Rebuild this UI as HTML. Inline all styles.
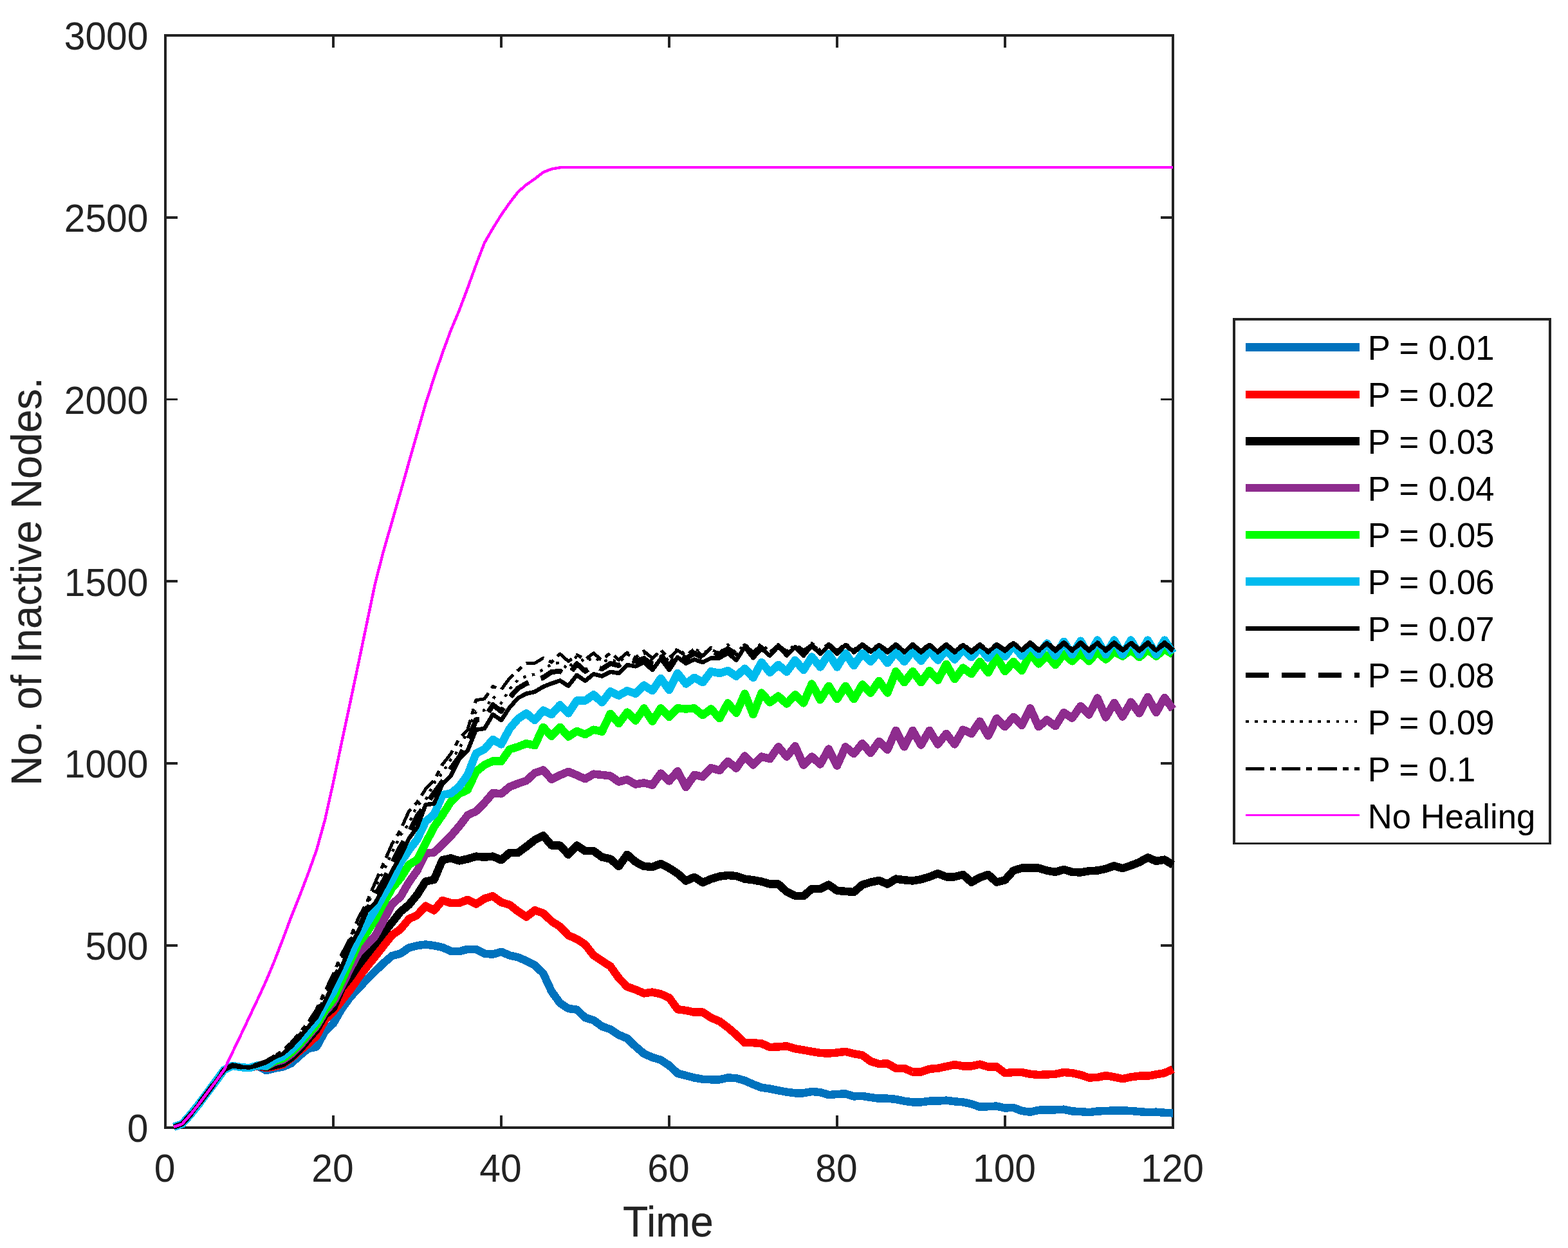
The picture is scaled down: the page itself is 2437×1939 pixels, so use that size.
<!DOCTYPE html>
<html lang="en"><head><meta charset="utf-8"><title>No. of Inactive Nodes vs Time</title>
<style>html,body{margin:0;padding:0;background:#fff;}body{width:2437px;height:1939px;overflow:hidden;}svg{display:block;}text{font-family:'Liberation Sans', sans-serif;}</style>
</head><body>
<svg width="2437" height="1939" viewBox="0 0 2437 1939" role="img" aria-label="Number of inactive nodes versus time for different healing probabilities">
<rect x="0" y="0" width="2437" height="1939" fill="#ffffff"/>
<g fill="#222222" shape-rendering="crispEdges">
<rect x="255" y="53" width="4" height="1701"/>
<rect x="1821" y="53" width="4" height="1701"/>
<rect x="255" y="53" width="1570" height="4"/>
<rect x="255" y="1750" width="1570" height="4"/>
<rect x="516" y="1733" width="4" height="17"/>
<rect x="516" y="57" width="4" height="17"/>
<rect x="777" y="1733" width="4" height="17"/>
<rect x="777" y="57" width="4" height="17"/>
<rect x="1038" y="1733" width="4" height="17"/>
<rect x="1038" y="57" width="4" height="17"/>
<rect x="1299" y="1733" width="4" height="17"/>
<rect x="1299" y="57" width="4" height="17"/>
<rect x="1560" y="1733" width="4" height="17"/>
<rect x="1560" y="57" width="4" height="17"/>
<rect x="259" y="1467" width="17" height="4"/>
<rect x="1804" y="1467" width="17" height="4"/>
<rect x="259" y="1184" width="17" height="4"/>
<rect x="1804" y="1184" width="17" height="4"/>
<rect x="259" y="901" width="17" height="4"/>
<rect x="1804" y="901" width="17" height="4"/>
<rect x="259" y="619" width="17" height="3"/>
<rect x="1804" y="619" width="17" height="3"/>
<rect x="259" y="336" width="17" height="4"/>
<rect x="1804" y="336" width="17" height="4"/>
</g>
<g fill="#222222" font-size="58.8">
<text transform="translate(256.0,1835.7) scale(1,1.025)" text-anchor="middle">0</text>
<text transform="translate(517.0,1835.7) scale(1,1.025)" text-anchor="middle">20</text>
<text transform="translate(778.0,1835.7) scale(1,1.025)" text-anchor="middle">40</text>
<text transform="translate(1039.0,1835.7) scale(1,1.025)" text-anchor="middle">60</text>
<text transform="translate(1300.0,1835.7) scale(1,1.025)" text-anchor="middle">80</text>
<text transform="translate(1561.0,1835.7) scale(1,1.025)" text-anchor="middle">100</text>
<text transform="translate(1822.0,1835.7) scale(1,1.025)" text-anchor="middle">120</text>
<text transform="translate(230.5,1774.0) scale(1,1.025)" text-anchor="end">0</text>
<text transform="translate(230.5,1491.2) scale(1,1.025)" text-anchor="end">500</text>
<text transform="translate(230.5,1208.3) scale(1,1.025)" text-anchor="end">1000</text>
<text transform="translate(230.5,925.5) scale(1,1.025)" text-anchor="end">1500</text>
<text transform="translate(230.5,642.7) scale(1,1.025)" text-anchor="end">2000</text>
<text transform="translate(230.5,359.8) scale(1,1.025)" text-anchor="end">2500</text>
<text transform="translate(230.5,77.0) scale(1,1.025)" text-anchor="end">3000</text>
</g>
<g fill="#222222" stroke="#222222" stroke-width="0.25" font-size="64.5">
<text transform="translate(1038.5,1921.0) scale(1,1.02)" text-anchor="middle">Time</text>
<text transform="translate(64.2,903.5) rotate(-90) scale(1,1.02)" text-anchor="middle">No. of Inactive Nodes.</text>
</g>
<g fill="none" stroke-linejoin="round" stroke-linecap="butt" shape-rendering="crispEdges">
<polyline stroke="#0072BD" stroke-width="12.5" points="270.1,1750.9 283.1,1746.3 296.1,1731.6 309.2,1715.2 322.2,1697.7 335.3,1680.2 348.4,1662.1 361.4,1655.8 374.4,1658.1 387.5,1659.2 400.6,1655.8 413.6,1663.2 426.6,1659.8 439.7,1657.5 452.8,1651.9 465.8,1640.0 478.9,1629.3 491.9,1626.4 505.0,1602.7 518.0,1590.2 531.0,1567.6 544.1,1549.5 557.2,1535.3 570.2,1521.8 583.2,1508.8 596.3,1496.3 609.4,1485.0 622.4,1481.6 635.5,1472.6 648.5,1469.2 661.5,1467.5 674.6,1469.2 687.7,1472.0 700.7,1477.7 713.8,1478.2 726.8,1474.8 739.9,1474.8 752.9,1481.6 766.0,1482.7 779.0,1478.8 792.1,1484.4 805.1,1487.3 818.1,1492.9 831.2,1499.7 844.2,1512.2 857.3,1540.4 870.4,1558.5 883.4,1567.0 896.5,1568.7 909.5,1581.2 922.6,1585.1 935.6,1594.7 948.7,1599.3 961.7,1607.8 974.8,1613.4 987.8,1625.9 1000.9,1637.2 1013.9,1642.8 1027.0,1646.8 1040.0,1655.3 1053.1,1667.7 1066.1,1671.1 1079.2,1674.5 1092.2,1676.8 1105.2,1677.3 1118.3,1677.3 1131.3,1674.5 1144.4,1675.1 1157.5,1679.0 1170.5,1684.7 1183.6,1689.8 1196.6,1691.5 1209.7,1694.3 1222.7,1696.6 1235.8,1698.3 1248.8,1698.3 1261.8,1696.0 1274.9,1697.1 1288.0,1701.1 1301.0,1700.0 1314.0,1699.4 1327.1,1703.4 1340.2,1702.8 1353.2,1705.0 1366.2,1706.7 1379.3,1706.7 1392.4,1707.9 1405.4,1710.7 1418.5,1712.4 1431.5,1712.4 1444.5,1710.7 1457.6,1710.7 1470.7,1709.6 1483.7,1711.3 1496.8,1712.4 1509.8,1715.2 1522.9,1719.8 1535.9,1719.2 1549.0,1718.6 1562.0,1721.5 1575.1,1720.9 1588.1,1726.0 1601.2,1727.7 1614.2,1724.8 1627.2,1724.3 1640.3,1724.3 1653.4,1723.7 1666.4,1726.5 1679.5,1727.1 1692.5,1728.2 1705.6,1726.5 1718.6,1726.0 1731.7,1725.4 1744.7,1725.4 1757.8,1726.0 1770.8,1727.1 1783.9,1728.2 1796.9,1727.7 1810.0,1728.8 1823.0,1729.4"/>
<polyline stroke="#FF0000" stroke-width="12.5" points="270.1,1750.9 283.1,1746.3 296.1,1731.6 309.2,1715.2 322.2,1697.7 335.3,1680.2 348.4,1662.1 361.4,1655.8 374.4,1658.1 387.5,1659.2 400.6,1655.8 413.6,1659.2 426.6,1657.0 439.7,1653.6 452.8,1644.0 465.8,1632.6 478.9,1621.9 491.9,1609.5 505.0,1585.1 518.0,1571.6 531.0,1554.6 544.1,1538.2 557.2,1518.9 570.2,1502.0 583.2,1486.1 596.3,1469.2 609.4,1452.8 622.4,1443.7 635.5,1427.9 648.5,1421.7 661.5,1407.5 674.6,1414.3 687.7,1399.0 700.7,1403.0 713.8,1403.0 726.8,1397.9 739.9,1404.7 752.9,1396.2 766.0,1392.2 779.0,1401.9 792.1,1405.8 805.1,1416.0 818.1,1424.5 831.2,1414.3 844.2,1418.8 857.3,1431.3 870.4,1439.8 883.4,1453.3 896.5,1459.0 909.5,1467.5 922.6,1484.4 935.6,1492.9 948.7,1501.4 961.7,1519.5 974.8,1533.1 987.8,1537.6 1000.9,1543.3 1013.9,1541.6 1027.0,1544.4 1040.0,1550.1 1053.1,1568.2 1066.1,1569.9 1079.2,1572.7 1092.2,1572.7 1105.2,1581.2 1118.3,1586.8 1131.3,1596.4 1144.4,1607.8 1157.5,1620.2 1170.5,1620.2 1183.6,1621.3 1196.6,1627.0 1209.7,1626.4 1222.7,1625.3 1235.8,1629.3 1248.8,1631.5 1261.8,1633.8 1274.9,1636.0 1288.0,1636.6 1301.0,1635.5 1314.0,1633.8 1327.1,1637.2 1340.2,1639.4 1353.2,1649.0 1366.2,1653.0 1379.3,1652.4 1392.4,1659.8 1405.4,1659.8 1418.5,1665.5 1431.5,1665.5 1444.5,1660.9 1457.6,1659.8 1470.7,1657.0 1483.7,1654.1 1496.8,1656.4 1509.8,1656.4 1522.9,1653.6 1535.9,1657.5 1549.0,1657.5 1562.0,1667.2 1575.1,1666.0 1588.1,1666.0 1601.2,1668.8 1614.2,1670.0 1627.2,1669.4 1640.3,1668.8 1653.4,1666.0 1666.4,1667.2 1679.5,1670.0 1692.5,1674.5 1705.6,1673.9 1718.6,1671.1 1731.7,1673.4 1744.7,1676.2 1757.8,1673.4 1770.8,1671.7 1783.9,1671.7 1796.9,1669.4 1810.0,1667.2 1823.0,1660.9"/>
<polyline stroke="#000000" stroke-width="12.5" points="270.1,1750.9 283.1,1746.3 296.1,1731.6 309.2,1715.2 322.2,1697.7 335.3,1680.2 348.4,1662.1 361.4,1655.8 374.4,1658.1 387.5,1659.2 400.6,1655.3 413.6,1658.1 426.6,1655.3 439.7,1651.9 452.8,1642.8 465.8,1630.4 478.9,1614.5 491.9,1599.3 505.0,1576.6 518.0,1565.9 531.0,1535.3 544.1,1518.9 557.2,1499.7 570.2,1482.7 583.2,1466.3 596.3,1449.4 609.4,1433.0 622.4,1416.6 635.5,1405.8 648.5,1390.0 661.5,1369.6 674.6,1366.8 687.7,1336.2 700.7,1333.4 713.8,1337.4 726.8,1334.5 739.9,1330.6 752.9,1331.7 766.0,1330.6 779.0,1336.2 792.1,1324.9 805.1,1324.9 818.1,1315.3 831.2,1305.1 844.2,1298.3 857.3,1313.6 870.4,1313.6 883.4,1327.8 896.5,1313.6 909.5,1322.1 922.6,1322.1 935.6,1331.7 948.7,1334.5 961.7,1345.9 974.8,1327.8 987.8,1339.1 1000.9,1345.9 1013.9,1347.0 1027.0,1341.9 1040.0,1348.7 1053.1,1357.2 1066.1,1368.5 1079.2,1362.8 1092.2,1371.3 1105.2,1365.6 1118.3,1361.7 1131.3,1360.0 1144.4,1361.1 1157.5,1365.6 1170.5,1367.3 1183.6,1369.6 1196.6,1373.6 1209.7,1373.6 1222.7,1385.4 1235.8,1391.7 1248.8,1392.2 1261.8,1380.9 1274.9,1380.9 1288.0,1374.7 1301.0,1383.8 1314.0,1384.9 1327.1,1386.0 1340.2,1374.7 1353.2,1370.7 1366.2,1367.9 1379.3,1373.6 1392.4,1365.6 1405.4,1367.3 1418.5,1368.5 1431.5,1366.2 1444.5,1362.3 1457.6,1357.2 1470.7,1362.3 1483.7,1362.3 1496.8,1358.9 1509.8,1370.7 1522.9,1363.4 1535.9,1358.9 1549.0,1370.7 1562.0,1367.3 1575.1,1352.6 1588.1,1348.7 1601.2,1348.7 1614.2,1348.7 1627.2,1352.6 1640.3,1354.9 1653.4,1350.9 1666.4,1354.9 1679.5,1355.5 1692.5,1353.2 1705.6,1352.6 1718.6,1349.8 1731.7,1345.3 1744.7,1349.2 1757.8,1344.7 1770.8,1339.6 1783.9,1332.3 1796.9,1337.9 1810.0,1335.7 1823.0,1343.6"/>
<polyline stroke="#8E2C8E" stroke-width="12.5" points="270.1,1750.9 283.1,1746.3 296.1,1731.6 309.2,1715.2 322.2,1697.7 335.3,1680.2 348.4,1662.1 361.4,1655.8 374.4,1658.1 387.5,1659.2 400.6,1655.3 413.6,1657.0 426.6,1650.2 439.7,1646.8 452.8,1637.7 465.8,1625.3 478.9,1609.5 491.9,1594.2 505.0,1572.1 518.0,1557.4 531.0,1532.5 544.1,1504.8 557.2,1480.5 570.2,1468.0 583.2,1453.9 596.3,1429.6 609.4,1404.7 622.4,1393.4 635.5,1370.7 648.5,1352.6 661.5,1326.1 674.6,1324.4 687.7,1311.9 700.7,1298.9 713.8,1283.6 726.8,1266.7 739.9,1260.4 752.9,1247.4 766.0,1232.2 779.0,1233.3 792.1,1222.5 805.1,1217.4 818.1,1212.9 831.2,1201.0 844.2,1196.5 857.3,1210.7 870.4,1204.4 883.4,1198.8 896.5,1204.4 909.5,1210.1 922.6,1202.7 935.6,1203.9 948.7,1205.6 961.7,1214.6 974.8,1211.2 987.8,1218.6 1000.9,1216.3 1013.9,1219.7 1027.0,1201.6 1040.0,1213.5 1053.1,1198.2 1066.1,1223.1 1079.2,1203.9 1092.2,1206.7 1105.2,1193.1 1118.3,1197.1 1131.3,1182.9 1144.4,1193.7 1157.5,1174.5 1170.5,1188.6 1183.6,1175.6 1196.6,1179.0 1209.7,1160.3 1222.7,1175.6 1235.8,1159.2 1248.8,1188.6 1261.8,1175.6 1274.9,1187.5 1288.0,1163.7 1301.0,1189.7 1314.0,1160.3 1327.1,1171.1 1340.2,1155.2 1353.2,1169.9 1366.2,1151.8 1379.3,1164.8 1392.4,1134.9 1405.4,1160.3 1418.5,1134.9 1431.5,1157.5 1444.5,1134.9 1457.6,1156.4 1470.7,1139.9 1483.7,1156.4 1496.8,1133.7 1509.8,1139.9 1522.9,1120.7 1535.9,1143.3 1549.0,1116.2 1562.0,1129.2 1575.1,1113.9 1588.1,1126.9 1601.2,1100.4 1614.2,1129.2 1627.2,1118.5 1640.3,1128.1 1653.4,1107.1 1666.4,1115.6 1679.5,1097.0 1692.5,1110.5 1705.6,1084.5 1718.6,1114.5 1731.7,1091.9 1744.7,1113.4 1757.8,1090.7 1770.8,1108.3 1783.9,1082.8 1796.9,1107.1 1810.0,1083.9 1823.0,1102.0"/>
<polyline stroke="#00FF00" stroke-width="12.5" points="270.1,1750.9 283.1,1746.3 296.1,1731.6 309.2,1715.2 322.2,1697.7 335.3,1680.2 348.4,1662.1 361.4,1655.8 374.4,1658.1 387.5,1659.2 400.6,1655.3 413.6,1656.4 426.6,1648.5 439.7,1644.5 452.8,1634.9 465.8,1621.9 478.9,1606.6 491.9,1591.9 505.0,1569.3 518.0,1551.8 531.0,1524.0 544.1,1494.6 557.2,1465.8 570.2,1448.8 583.2,1428.4 596.3,1403.0 609.4,1379.8 622.4,1364.5 635.5,1343.6 648.5,1335.7 661.5,1310.2 674.6,1284.8 687.7,1266.1 700.7,1245.7 713.8,1233.3 726.8,1227.1 739.9,1198.8 752.9,1188.6 766.0,1182.4 779.0,1182.9 792.1,1164.3 805.1,1160.3 818.1,1155.2 831.2,1158.1 844.2,1129.8 857.3,1143.9 870.4,1129.8 883.4,1144.5 896.5,1136.0 909.5,1141.1 922.6,1133.7 935.6,1136.6 948.7,1108.8 961.7,1124.1 974.8,1106.6 987.8,1119.6 1000.9,1100.4 1013.9,1120.7 1027.0,1100.4 1040.0,1113.9 1053.1,1100.4 1066.1,1101.5 1079.2,1100.4 1092.2,1111.1 1105.2,1101.5 1118.3,1116.2 1131.3,1092.4 1144.4,1107.7 1157.5,1077.7 1170.5,1110.0 1183.6,1076.6 1196.6,1091.3 1209.7,1081.7 1222.7,1093.6 1235.8,1079.4 1248.8,1092.4 1261.8,1062.5 1274.9,1087.3 1288.0,1065.8 1301.0,1086.2 1314.0,1065.8 1327.1,1086.2 1340.2,1063.6 1353.2,1076.6 1366.2,1057.9 1379.3,1076.6 1392.4,1043.2 1405.4,1060.2 1418.5,1043.2 1431.5,1060.2 1444.5,1042.1 1457.6,1056.8 1470.7,1031.9 1483.7,1055.1 1496.8,1037.6 1509.8,1047.2 1522.9,1027.9 1535.9,1044.9 1549.0,1021.2 1562.0,1043.2 1575.1,1027.9 1588.1,1042.1 1601.2,1014.9 1614.2,1031.3 1627.2,1018.3 1640.3,1033.0 1653.4,1016.1 1666.4,1027.4 1679.5,1014.9 1692.5,1027.4 1705.6,1012.7 1718.6,1024.6 1731.7,1012.7 1744.7,1019.5 1757.8,1009.8 1770.8,1021.2 1783.9,1009.3 1796.9,1019.5 1810.0,1008.7 1823.0,1016.6"/>
<polyline stroke="#00BBEE" stroke-width="12.5" points="270.1,1750.9 283.1,1746.3 296.1,1731.6 309.2,1715.2 322.2,1697.7 335.3,1680.2 348.4,1662.1 361.4,1655.8 374.4,1658.1 387.5,1659.2 400.6,1655.3 413.6,1655.8 426.6,1646.8 439.7,1641.1 452.8,1630.9 465.8,1617.4 478.9,1601.5 491.9,1585.7 505.0,1561.9 518.0,1541.0 531.0,1512.2 544.1,1485.6 557.2,1456.2 570.2,1434.7 583.2,1413.7 596.3,1390.0 609.4,1367.3 622.4,1340.2 635.5,1321.0 648.5,1304.0 661.5,1276.3 674.6,1265.5 687.7,1235.0 700.7,1232.7 713.8,1222.0 726.8,1203.9 739.9,1170.5 752.9,1164.3 766.0,1149.0 779.0,1156.4 792.1,1132.0 805.1,1116.8 818.1,1108.3 831.2,1119.0 844.2,1103.7 857.3,1110.0 870.4,1095.3 883.4,1108.3 896.5,1088.5 909.5,1088.5 922.6,1079.4 935.6,1091.3 948.7,1074.3 961.7,1080.6 974.8,1073.2 987.8,1077.7 1000.9,1064.7 1013.9,1073.2 1027.0,1054.0 1040.0,1072.1 1053.1,1046.0 1066.1,1062.5 1079.2,1052.8 1092.2,1060.2 1105.2,1043.2 1118.3,1046.0 1131.3,1042.1 1144.4,1050.6 1157.5,1038.7 1170.5,1052.8 1183.6,1029.1 1196.6,1044.9 1209.7,1033.0 1222.7,1043.8 1235.8,1025.7 1248.8,1041.0 1261.8,1020.6 1274.9,1036.4 1288.0,1016.1 1301.0,1036.4 1314.0,1014.9 1327.1,1034.2 1340.2,1014.9 1353.2,1027.9 1366.2,1012.7 1379.3,1030.2 1392.4,1012.7 1405.4,1027.9 1418.5,1011.5 1431.5,1026.8 1444.5,1010.4 1457.6,1025.7 1470.7,1009.3 1483.7,1024.6 1496.8,1008.7 1509.8,1021.2 1522.9,1006.5 1535.9,1022.3 1549.0,1004.2 1562.0,1020.0 1575.1,1003.1 1588.1,1018.9 1601.2,1001.9 1614.2,1017.2 1627.2,999.7 1640.3,1018.9 1653.4,996.8 1666.4,1017.2 1679.5,995.7 1692.5,1018.9 1705.6,994.6 1718.6,1017.2 1731.7,994.6 1744.7,1017.2 1757.8,994.6 1770.8,1017.2 1783.9,994.6 1796.9,1017.2 1810.0,994.6 1823.0,1014.9"/>
<polyline stroke="#000000" stroke-width="6.5" points="270.1,1750.9 283.1,1746.3 296.1,1731.6 309.2,1715.2 322.2,1697.7 335.3,1680.2 348.4,1662.1 361.4,1655.3 374.4,1657.5 387.5,1658.7 400.6,1654.7 413.6,1650.7 426.6,1642.8 439.7,1637.2 452.8,1625.9 465.8,1611.7 478.9,1595.9 491.9,1580.6 505.0,1556.3 518.0,1528.6 531.0,1502.5 544.1,1470.3 557.2,1446.5 570.2,1415.4 583.2,1403.0 596.3,1378.7 609.4,1353.2 622.4,1330.0 635.5,1302.9 648.5,1285.3 661.5,1250.3 674.6,1248.6 687.7,1218.0 700.7,1205.0 713.8,1179.5 726.8,1166.5 739.9,1133.7 752.9,1132.0 766.0,1110.0 779.0,1119.0 792.1,1099.2 805.1,1084.5 818.1,1077.7 831.2,1074.9 844.2,1067.0 857.3,1061.9 870.4,1057.4 883.4,1065.8 896.5,1048.9 909.5,1057.9 922.6,1047.2 935.6,1050.6 948.7,1043.8 961.7,1046.0 974.8,1033.0 987.8,1035.3 1000.9,1029.1 1013.9,1041.0 1027.0,1023.4 1040.0,1041.0 1053.1,1021.2 1066.1,1030.8 1079.2,1024.6 1092.2,1029.1 1105.2,1022.3 1118.3,1022.3 1131.3,1014.9 1144.4,1025.7 1157.5,1005.3 1170.5,1022.3 1183.6,1007.6 1196.6,1018.9 1209.7,1004.2 1222.7,1018.3 1235.8,1005.3 1248.8,1018.9 1261.8,1003.1 1274.9,1016.1 1288.0,1003.1 1301.0,1016.1 1314.0,1001.9 1327.1,1012.7 1340.2,1001.9 1353.2,1012.7 1366.2,1001.9 1379.3,1012.7 1392.4,1001.9 1405.4,1012.7 1418.5,1001.9 1431.5,1012.7 1444.5,1001.9 1457.6,1012.7 1470.7,1001.9 1483.7,1012.7 1496.8,1001.9 1509.8,1012.7 1522.9,1001.9 1535.9,1012.7 1549.0,1001.9 1562.0,1010.4 1575.1,999.1 1588.1,1010.4 1601.2,999.1 1614.2,1010.4 1627.2,999.1 1640.3,1010.4 1653.4,999.1 1666.4,1010.4 1679.5,999.1 1692.5,1010.4 1705.6,999.1 1718.6,1010.4 1731.7,999.1 1744.7,1010.4 1757.8,999.1 1770.8,1010.4 1783.9,999.1 1796.9,1010.4 1810.0,999.1 1823.0,1010.4"/>
<polyline stroke="#000000" stroke-width="8.0" stroke-dasharray="36.3 20.1" points="270.1,1750.9 283.1,1746.3 296.1,1731.6 309.2,1715.2 322.2,1697.7 335.3,1680.2 348.4,1662.1 361.4,1655.3 374.4,1657.6 387.5,1658.5 400.6,1654.4 413.6,1649.9 426.6,1642.2 439.7,1635.8 452.8,1624.1 465.8,1609.6 478.9,1593.7 491.9,1577.0 505.0,1553.3 518.0,1521.3 531.0,1498.9 544.1,1464.9 557.2,1443.3 570.2,1413.4 583.2,1390.9 596.3,1368.1 609.4,1340.6 622.4,1315.6 635.5,1293.9 648.5,1267.5 661.5,1251.2 674.6,1232.0 687.7,1214.1 700.7,1194.3 713.8,1176.0 726.8,1152.1 739.9,1118.3 752.9,1116.7 766.0,1095.2 779.0,1105.2 792.1,1083.9 805.1,1069.4 818.1,1061.9 831.2,1057.2 844.2,1052.8 857.3,1044.0 870.4,1042.9 883.4,1049.7 896.5,1031.3 909.5,1042.7 922.6,1034.3 935.6,1039.2 948.7,1031.0 961.7,1033.9 974.8,1025.2 987.8,1027.3 1000.9,1023.1 1013.9,1033.0 1027.0,1016.8 1040.0,1035.2 1053.1,1014.3 1066.1,1023.4 1079.2,1014.9 1092.2,1021.6 1105.2,1013.6 1118.3,1015.7 1131.3,1007.9 1144.4,1016.6 1157.5,1003.7 1170.5,1015.6 1183.6,1003.5 1196.6,1015.3 1209.7,1004.2 1222.7,1014.0 1235.8,1001.6 1248.8,1012.9 1261.8,1003.1 1274.9,1014.4 1288.0,1001.8 1301.0,1013.2 1314.0,1001.9 1327.1,1012.7 1340.2,1001.9 1353.2,1011.8 1366.2,1001.9 1379.3,1012.7 1392.4,1001.9 1405.4,1012.7 1418.5,1001.9 1431.5,1012.7 1444.5,1001.9 1457.6,1012.7 1470.7,1001.9 1483.7,1012.7 1496.8,1001.9 1509.8,1012.7 1522.9,1001.9 1535.9,1012.7 1549.0,1001.9 1562.0,1010.4 1575.1,999.1 1588.1,1010.4 1601.2,999.1 1614.2,1010.4 1627.2,999.1 1640.3,1010.4 1653.4,999.1 1666.4,1010.4 1679.5,999.1 1692.5,1010.4 1705.6,999.1 1718.6,1010.4 1731.7,999.1 1744.7,1010.4 1757.8,999.1 1770.8,1010.4 1783.9,999.1 1796.9,1010.4 1810.0,999.1 1823.0,1010.4"/>
<polyline stroke="#000000" stroke-width="4.3" stroke-dasharray="4.5 9.55" points="270.1,1750.9 283.1,1746.3 296.1,1731.6 309.2,1715.2 322.2,1697.7 335.3,1680.2 348.4,1662.1 361.4,1655.3 374.4,1657.6 387.5,1658.2 400.6,1654.0 413.6,1648.8 426.6,1641.3 439.7,1634.0 452.8,1621.6 465.8,1606.7 478.9,1590.8 491.9,1572.1 505.0,1545.8 518.0,1518.3 531.0,1491.0 544.1,1458.2 557.2,1436.3 570.2,1407.3 583.2,1379.2 596.3,1352.8 609.4,1324.5 622.4,1297.6 635.5,1280.0 648.5,1250.6 661.5,1242.7 674.6,1216.7 687.7,1200.7 700.7,1179.9 713.8,1164.1 726.8,1135.7 739.9,1105.4 752.9,1103.3 766.0,1082.2 779.0,1092.5 792.1,1070.1 805.1,1056.6 818.1,1050.5 831.2,1047.6 844.2,1040.1 857.3,1031.9 870.4,1029.6 883.4,1039.7 896.5,1018.8 909.5,1029.2 922.6,1020.9 935.6,1028.3 948.7,1024.5 961.7,1029.4 974.8,1016.6 987.8,1021.5 1000.9,1014.3 1013.9,1026.5 1027.0,1008.8 1040.0,1028.8 1053.1,1006.5 1066.1,1017.7 1079.2,1008.2 1092.2,1014.0 1105.2,1009.3 1118.3,1014.6 1131.3,1001.6 1144.4,1014.6 1157.5,1000.0 1170.5,1012.9 1183.6,999.3 1196.6,1013.9 1209.7,1001.2 1222.7,1012.8 1235.8,1001.0 1248.8,1010.9 1261.8,999.1 1274.9,1009.9 1288.0,999.8 1301.0,1011.3 1314.0,999.7 1327.1,1008.8 1340.2,999.7 1353.2,1010.4 1366.2,999.7 1379.3,1010.4 1392.4,999.7 1405.4,1010.4 1418.5,999.7 1431.5,1010.4 1444.5,999.7 1457.6,1010.4 1470.7,999.7 1483.7,1010.4 1496.8,999.7 1509.8,1010.4 1522.9,999.7 1535.9,1010.4 1549.0,999.7 1562.0,1008.1 1575.1,996.8 1588.1,1008.1 1601.2,996.8 1614.2,1008.1 1627.2,996.8 1640.3,1008.1 1653.4,996.8 1666.4,1008.1 1679.5,996.8 1692.5,1008.1 1705.6,996.8 1718.6,1008.1 1731.7,996.8 1744.7,1008.1 1757.8,996.8 1770.8,1008.1 1783.9,996.8 1796.9,1008.1 1810.0,996.8 1823.0,1008.1"/>
<polyline stroke="#000000" stroke-width="5.0" stroke-dasharray="29.2 9 9 9" points="270.1,1750.9 283.1,1746.3 296.1,1731.6 309.2,1715.2 322.2,1697.7 335.3,1680.2 348.4,1662.1 361.4,1655.3 374.4,1657.6 387.5,1658.0 400.6,1653.7 413.6,1648.0 426.6,1640.7 439.7,1632.6 452.8,1619.8 465.8,1604.6 478.9,1588.6 491.9,1568.4 505.0,1540.6 518.0,1513.4 531.0,1482.8 544.1,1457.7 557.2,1426.1 570.2,1402.0 583.2,1371.0 596.3,1341.2 609.4,1310.9 622.4,1289.8 635.5,1260.4 648.5,1246.5 661.5,1225.9 674.6,1212.8 687.7,1187.7 700.7,1171.2 713.8,1147.6 726.8,1133.9 739.9,1087.7 752.9,1085.9 766.0,1066.4 779.0,1071.6 792.1,1053.5 805.1,1041.5 818.1,1030.5 831.2,1030.2 844.2,1022.6 857.3,1029.0 870.4,1016.0 883.4,1027.5 896.5,1017.6 909.5,1024.5 922.6,1014.8 935.6,1025.9 948.7,1014.2 961.7,1025.1 974.8,1014.0 987.8,1021.8 1000.9,1011.8 1013.9,1022.7 1027.0,1010.0 1040.0,1022.2 1053.1,1010.4 1066.1,1018.9 1079.2,1008.2 1092.2,1019.3 1105.2,1006.3 1118.3,1018.7 1131.3,1006.1 1144.4,1017.6 1157.5,1004.6 1170.5,1016.6 1183.6,1004.8 1196.6,1017.7 1209.7,1004.7 1222.7,1016.1 1235.8,1004.2 1248.8,1016.4 1261.8,1002.5 1274.9,1016.4 1288.0,1003.6 1301.0,1015.8 1314.0,1003.6 1327.1,1014.4 1340.2,1003.6 1353.2,1014.4 1366.2,1003.6 1379.3,1014.4 1392.4,1003.6 1405.4,1014.4 1418.5,1003.6 1431.5,1014.4 1444.5,1003.6 1457.6,1014.4 1470.7,1003.6 1483.7,1014.4 1496.8,1003.6 1509.8,1014.4 1522.9,1003.6 1535.9,1014.4 1549.0,1003.6 1562.0,1012.1 1575.1,1000.8 1588.1,1012.1 1601.2,1000.8 1614.2,1012.1 1627.2,1000.8 1640.3,1012.1 1653.4,1000.8 1666.4,1012.1 1679.5,1000.8 1692.5,1012.1 1705.6,1000.8 1718.6,1012.1 1731.7,1000.8 1744.7,1012.1 1757.8,1000.8 1770.8,1012.1 1783.9,1000.8 1796.9,1012.1 1810.0,1000.8 1823.0,1012.1"/>
<polyline stroke="#FF00FF" stroke-width="4.4" points="270.1,1750.9 283.1,1746.3 296.1,1731.6 309.2,1715.2 322.2,1697.7 335.3,1680.2 348.4,1662.1 361.4,1634.9 374.4,1607.8 387.5,1580.0 400.6,1552.3 413.6,1524.0 426.6,1492.9 439.7,1459.0 452.8,1423.9 465.8,1391.7 478.9,1357.2 491.9,1321.0 505.0,1274.0 518.0,1215.7 531.0,1153.5 544.1,1092.4 557.2,1030.2 570.2,968.0 583.2,905.8 596.3,855.4 609.4,810.2 622.4,764.9 635.5,718.5 648.5,672.7 661.5,627.5 674.6,586.7 687.7,548.3 700.7,513.2 713.8,482.1 726.8,447.6 739.9,411.4 752.9,377.4 766.0,354.8 779.0,333.9 792.1,315.2 805.1,298.2 818.1,286.9 831.2,277.9 844.2,267.7 857.3,262.6 870.4,260.3 883.4,259.8 896.5,259.8 909.5,259.8 922.6,259.8 935.6,259.8 948.7,259.8 961.7,259.8 974.8,259.8 987.8,259.8 1000.9,259.8 1013.9,259.8 1027.0,259.8 1040.0,259.8 1053.1,259.8 1066.1,259.8 1079.2,259.8 1092.2,259.8 1105.2,259.8 1118.3,259.8 1131.3,259.8 1144.4,259.8 1157.5,259.8 1170.5,259.8 1183.6,259.8 1196.6,259.8 1209.7,259.8 1222.7,259.8 1235.8,259.8 1248.8,259.8 1261.8,259.8 1274.9,259.8 1288.0,259.8 1301.0,259.8 1314.0,259.8 1327.1,259.8 1340.2,259.8 1353.2,259.8 1366.2,259.8 1379.3,259.8 1392.4,259.8 1405.4,259.8 1418.5,259.8 1431.5,259.8 1444.5,259.8 1457.6,259.8 1470.7,259.8 1483.7,259.8 1496.8,259.8 1509.8,259.8 1522.9,259.8 1535.9,259.8 1549.0,259.8 1562.0,259.8 1575.1,259.8 1588.1,259.8 1601.2,259.8 1614.2,259.8 1627.2,259.8 1640.3,259.8 1653.4,259.8 1666.4,259.8 1679.5,259.8 1692.5,259.8 1705.6,259.8 1718.6,259.8 1731.7,259.8 1744.7,259.8 1757.8,259.8 1770.8,259.8 1783.9,259.8 1796.9,259.8 1810.0,259.8 1823.0,259.8"/>
</g>
<g shape-rendering="crispEdges">
<rect x="1916" y="494" width="495" height="818" fill="#222222"/>
<rect x="1920" y="498" width="487" height="811" fill="#ffffff"/>
<rect x="1936" y="533" width="177" height="13" fill="#0072BD"/>
<rect x="1936" y="607" width="177" height="12" fill="#FF0000"/>
<rect x="1936" y="679" width="177" height="13" fill="#000000"/>
<rect x="1936" y="752" width="177" height="12" fill="#8E2C8E"/>
<rect x="1936" y="825" width="177" height="12" fill="#00FF00"/>
<rect x="1936" y="897" width="177" height="13" fill="#00BBEE"/>
<rect x="1936" y="973" width="177" height="6.5" fill="#000000"/>
<line x1="1936" y1="1049.0" x2="2113" y2="1049.0" stroke="#000000" stroke-width="8" stroke-dasharray="36.3 20.1"/>
<line x1="1936" y1="1121.0" x2="2113" y2="1121.0" stroke="#000000" stroke-width="4" stroke-dasharray="4.5 9.55"/>
<line x1="1936" y1="1194.0" x2="2113" y2="1194.0" stroke="#000000" stroke-width="5.0" stroke-dasharray="29.2 9 9 9"/>
<rect x="1936" y="1265" width="177" height="3" fill="#FF00FF"/>
</g>
<g fill="#000000" font-size="52.7">
<text transform="translate(2125.7,559.4) scale(1,1.01)" text-anchor="start">P = 0.01</text>
<text transform="translate(2125.7,632.1) scale(1,1.01)" text-anchor="start">P = 0.02</text>
<text transform="translate(2125.7,704.8) scale(1,1.01)" text-anchor="start">P = 0.03</text>
<text transform="translate(2125.7,777.5) scale(1,1.01)" text-anchor="start">P = 0.04</text>
<text transform="translate(2125.7,850.2) scale(1,1.01)" text-anchor="start">P = 0.05</text>
<text transform="translate(2125.7,922.9) scale(1,1.01)" text-anchor="start">P = 0.06</text>
<text transform="translate(2125.7,995.7) scale(1,1.01)" text-anchor="start">P = 0.07</text>
<text transform="translate(2125.7,1068.4) scale(1,1.01)" text-anchor="start">P = 0.08</text>
<text transform="translate(2125.7,1141.1) scale(1,1.01)" text-anchor="start">P = 0.09</text>
<text transform="translate(2125.7,1213.8) scale(1,1.01)" text-anchor="start">P = 0.1</text>
<text transform="translate(2125.7,1286.5) scale(1,1.01)" text-anchor="start">No Healing</text>
</g>
</svg></body></html>
